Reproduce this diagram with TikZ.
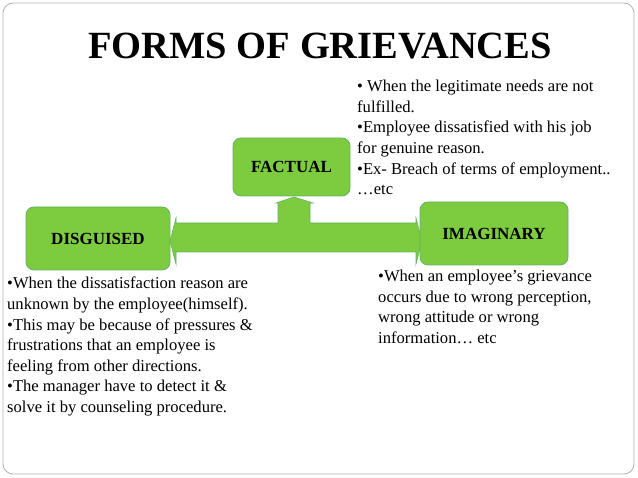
\documentclass[tikz,border=0pt]{standalone}
\usepackage{fontspec}
\setmainfont{Liberation Serif}
\begin{document}
\begin{tikzpicture}[x=1pt,y=-1pt,
  gbox/.style={draw=green!50!black!60, fill=gfill, rounded corners=8pt, line width=0.8pt, font=\fontsize{17}{20}\selectfont\bfseries},
  txt/.style={anchor=north west, align=left, inner sep=0pt, font=\fontsize{16.6}{20.6}\selectfont}]
\definecolor{gfill}{HTML}{7DCB3F}
\useasboundingbox (0,0) rectangle (638,478);
\draw[gray!60, rounded corners=10pt, line width=0.8pt] (3,3) rectangle (634,474);
\node[font=\fontsize{38.5}{44}\selectfont\bfseries] (title) at (320,46) {FORMS OF GRIEVANCES};
\draw[draw=green!50!black!60, fill=gfill, line width=0.6pt]
  (170,241) -- (176,218) -- (176,223) -- (278,223) -- (278,203) -- (276,203) -- (294,197) -- (313,203) -- (310,203) -- (310,223)
  -- (416,223) -- (416,218) -- (422,241) -- (416,264) -- (416,252) -- (176,252) -- (176,264) -- cycle;
\node[gbox, minimum width=117pt, minimum height=58pt] (fact) at (291.5,167) {FACTUAL};
\node[gbox, minimum width=144pt, minimum height=63pt] (dis) at (98,238.5) {DISGUISED};
\node[gbox, minimum width=148pt, minimum height=63pt] (ima) at (494,233.5) {IMAGINARY};
\node[txt] (t1) at (357,80) {• When the legitimate needs are not\\fulfilled.\\•Employee dissatisfied with his job\\for genuine reason.\\•Ex- Breach of terms of employment..\\…etc};
\node[txt] (t2) at (7,277) {•When the dissatisfaction reason are\\unknown by the employee(himself).\\•This may be because of pressures \&\\frustrations that an employee is\\feeling from other directions.\\•The manager have to detect it \&\\solve it by counseling procedure.};
\node[txt] (t3) at (378,270) {•When an employee’s grievance\\occurs due to wrong perception,\\wrong attitude or wrong\\information… etc};
\end{tikzpicture}
\end{document}
